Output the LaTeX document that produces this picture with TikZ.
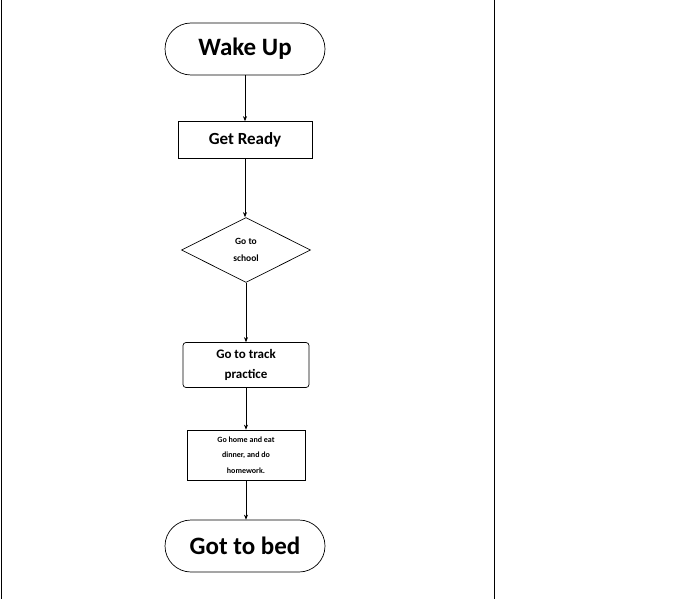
\documentclass[tikz,border=0pt]{standalone}
\usepackage{fontspec}
\setmainfont{Carlito}
\usetikzlibrary{shapes.geometric,arrows.meta}
\begin{document}
\begin{tikzpicture}[x=1pt,y=-1pt,
  box/.style={draw,line width=0.7pt,inner sep=0pt,align=center},
  pill/.style={box,rounded corners=26pt,minimum width=160pt,minimum height=52pt,font=\bfseries\fontsize{25}{30}\selectfont},
  arr/.style={-{Stealth[length=5pt,width=4pt]},line width=0.6pt}]
\useasboundingbox (0,0) rectangle (683,599);
\draw[line width=0.8pt] (1,0) -- (1,599);
\draw[line width=0.8pt] (494,0) -- (494,599);
\node[pill] (wake) at (245,49) {Wake Up};
\node[box,minimum width=134pt,minimum height=37pt,font=\bfseries\fontsize{17}{20}\selectfont] (ready) at (245,140) {Get Ready};
\node[box,diamond,aspect=2,minimum width=129pt,minimum height=65pt,font=\bfseries\fontsize{9.5}{17}\selectfont] (school) at (246,250) {Go to\\school};
\node[box,rounded corners=3pt,minimum width=126pt,minimum height=45pt,font=\bfseries\fontsize{13}{20}\selectfont] (track) at (246,365) {Go to track\\practice};
\node[box,minimum width=118pt,minimum height=50pt,font=\bfseries\fontsize{8}{15.5}\selectfont] (home) at (246,455) {Go home and eat\\dinner, and do\\homework.};
\node[pill] (bed) at (245,546) {Got to bed};
\draw[arr] (wake.south) -- (ready.north);
\draw[arr] (ready.south) -- (ready.south |- school.north);
\draw[arr] (school.south) -- (track.north);
\draw[arr] (track.south) -- (home.north);
\draw[arr] (home.south) -- (home.south |- bed.north);
\end{tikzpicture}
\end{document}
